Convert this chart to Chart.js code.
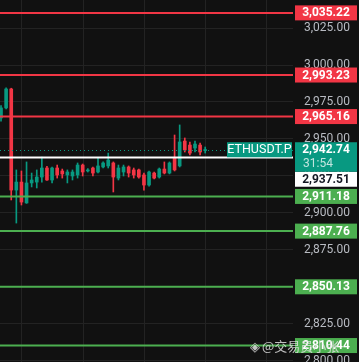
<!DOCTYPE html>
<html>
<head>
<meta charset="utf-8">
<script src="https://cdn.jsdelivr.net/npm/chart.js@4"></script>
<style>
  html,body{margin:0;padding:0;background:#111111;}
  #wrap{width:359px;height:362px;position:relative;}
</style>
</head>
<body>
<div id="wrap"><canvas id="c"></canvas></div>
<script>
// ETHUSDT.P candles + levels
const OPEN  = [2964.2,2971.0,2983.8,2915.5,2920.9,2906.8,2920.3,2920.9,2924.3,2930.4,2922.3,2930.4,2928.4,2925.7,2925.0,2925.7,2932.4,2928.4,2930.4,2927.7,2931.1,2931.8,2933.8,2923.6,2927.7,2931.1,2929.1,2929.1,2925.7,2918.9,2927.0,2924.3,2929.7,2927.0,2937.2,2931.8,2948.6,2945.9,2943.9,2945.9,2942.2];
const HIGH  = [2972.5,2984.5,2984.3,2929.1,2928.4,2934.5,2927.0,2929.1,2937.8,2931.5,2931.1,2932.4,2929.7,2929.1,2929.1,2933.8,2933.1,2930.0,2931.1,2937.2,2934.5,2940.5,2934.5,2932.4,2932.4,2931.8,2930.4,2929.7,2927.0,2928.4,2927.7,2930.4,2934.5,2934.5,2952.7,2959.5,2950.7,2948.0,2948.6,2947.3,2944.6];
const LOW   = [2962.0,2970.3,2908.8,2893.2,2905.4,2906.5,2917.6,2916.9,2920.9,2922.0,2920.3,2923.6,2923.6,2920.3,2922.3,2923.6,2925.0,2927.7,2925.0,2927.0,2930.4,2930.4,2914.2,2922.3,2925.0,2924.3,2923.6,2923.6,2915.5,2918.2,2923.0,2923.6,2926.4,2926.4,2928.4,2931.1,2941.2,2939.2,2941.2,2939.2,2940.5];
const CLOSE = [2971.0,2983.8,2915.5,2920.9,2907.4,2920.3,2922.3,2924.3,2930.4,2922.3,2930.4,2925.7,2926.4,2927.7,2927.7,2932.4,2927.7,2929.1,2927.0,2931.8,2933.8,2935.8,2924.3,2930.4,2931.1,2927.0,2925.7,2924.3,2918.9,2927.7,2923.6,2929.7,2927.0,2933.8,2929.1,2948.0,2942.6,2940.5,2946.6,2941.2,2942.74];

const RED_LEVELS   = [3035.22, 2993.23, 2965.16];
const GREEN_LEVELS = [2911.18, 2887.76, 2850.13, 2810.44];
const MARK_PRICE   = 2937.51;
const LAST_PRICE   = 2942.74;
const SYMBOL       = 'ETHUSDT.P';
const COUNTDOWN    = '31:54';
const WATERMARK    = '@交易员小张';

const Y_TICKS = [3025, 3000, 2975, 2950, 2925, 2900, 2875, 2850, 2825, 2800];
const GRID_X  = [4, 16, 28, 40, 52];   // candle index of vertical grid lines
const Y_MIN = 2799.32, Y_MAX = 3043.92;

const UP = '#089981', DOWN = '#f23645', GREEN = '#4caf50';
const fmt = v => v.toLocaleString('en-US',{minimumFractionDigits:2,maximumFractionDigits:2});

const colors = OPEN.map((o,i)=> CLOSE[i] >= o ? UP : DOWN);
const wicks  = OPEN.map((o,i)=> ({x:i, y:[LOW[i], HIGH[i]]}));
const bodies = OPEN.map((o,i)=> ({x:i, y:[Math.min(o,CLOSE[i]), Math.max(o,CLOSE[i])]}));

// levels, labels, grid
const overlay = {
  id:'overlay',
  beforeDatasetsDraw(chart){
    const {ctx, chartArea:a, scales:{x}} = chart;
    ctx.save();
    ctx.strokeStyle = '#232323'; ctx.lineWidth = 1;
    GRID_X.forEach(g=>{
      const px = Math.round(x.getPixelForValue(g)) + 0.5;
      ctx.beginPath(); ctx.moveTo(px, a.top); ctx.lineTo(px, a.bottom); ctx.stroke();
    });
    ctx.restore();
  },
  afterDatasetsDraw(chart){
    const {ctx, chartArea:a, scales:{y}} = chart;
    ctx.save();
    const line = (v,c)=>{
      const py = y.getPixelForValue(v);
      ctx.strokeStyle = c; ctx.lineWidth = 2;
      ctx.beginPath(); ctx.moveTo(a.left, py); ctx.lineTo(a.right, py); ctx.stroke();
    };
    RED_LEVELS.forEach(v=>line(v, DOWN));
    GREEN_LEVELS.forEach(v=>line(v, GREEN));
    line(MARK_PRICE, '#ffffff');
    // last price dotted
    const lp = Math.round(y.getPixelForValue(LAST_PRICE)) + 0.5;
    ctx.strokeStyle = UP; ctx.lineWidth = 1; ctx.setLineDash([1,3]);
    ctx.beginPath(); ctx.moveTo(a.left, lp); ctx.lineTo(a.right, lp); ctx.stroke();
    ctx.setLineDash([]);
    ctx.restore();
  },
  afterDraw(chart){
    const {ctx, chartArea:a, scales:{y}} = chart;
    const bx = a.right + 2, bw = 62, bh = 15;
    ctx.save();
    ctx.font = 'bold 12px Roboto';
    ctx.textAlign = 'center'; ctx.textBaseline = 'middle';
    // current price box
    const lp = y.getPixelForValue(LAST_PRICE);
    const pTop = lp - 7.5, pBot = pTop + 29.5;
    const boxes = [];
    RED_LEVELS.forEach(v=>boxes.push({v, bg:DOWN, fg:'#ffffff'}));
    GREEN_LEVELS.forEach(v=>boxes.push({v, bg:GREEN, fg:'#ffffff'}));
    boxes.push({v:MARK_PRICE, bg:'#ffffff', fg:'#131722'});
    boxes.forEach(b=>{
      let top = y.getPixelForValue(b.v) - bh/2;
      if(top < pBot && top + bh > pTop) top = pBot;
      ctx.fillStyle = b.bg; ctx.fillRect(bx, top, bw, bh);
      ctx.fillStyle = b.fg; ctx.fillText(fmt(b.v), bx + bw/2, top + bh/2 + 0.5);
    });
    ctx.fillStyle = UP; ctx.fillRect(bx, pTop, bw, pBot - pTop);
    ctx.fillStyle = '#ffffff'; ctx.fillText(fmt(LAST_PRICE), bx + bw/2, lp + 0.5);
    ctx.font = '12px Roboto'; ctx.fillStyle = 'rgba(255,255,255,0.75)';
    ctx.fillText(COUNTDOWN, bx + bw/2 - 8, lp + 14.5);
    // symbol tag
    ctx.fillStyle = UP; ctx.fillRect(a.right - 66, pTop, 65, bh);
    ctx.font = '12.5px Roboto'; ctx.fillStyle = '#ffffff';
    ctx.fillText(SYMBOL, a.right - 33.5, lp + 0.5);
    // watermark
    const wy = y.getPixelForValue(GREEN_LEVELS[3]) + 0.5;
    ctx.globalAlpha = 0.85; ctx.fillStyle = '#e0e0e0';
    ctx.font = '13px "Noto Sans CJK SC"'; ctx.textAlign = 'left';
    ctx.fillText('◈', 250, wy);
    ctx.fillText(WATERMARK, 262, wy);
    ctx.restore();
  }
};

new Chart(document.getElementById('c'), {
  type:'bar',
  data:{ datasets:[
    { data:wicks, backgroundColor:colors, barThickness:1, grouped:false, order:2 },
    { data:bodies, backgroundColor:colors, barThickness:3, minBarLength:1, grouped:false, order:1 }
  ]},
  options:{
    responsive:true, maintainAspectRatio:false, animation:false,
    layout:{ padding:{left:0, top:0, bottom:0, right:9} },
    plugins:{ legend:{display:false}, tooltip:{enabled:false} },
    scales:{
      x:{ type:'linear', display:false, min:-0.2, max:57.2, offset:false },
      y:{
        position:'right', min:Y_MIN, max:Y_MAX,
        afterBuildTicks: s=>{ s.ticks = Y_TICKS.map(v=>({value:v})); },
        afterFit: s=>{ s.width = 57; s.paddingTop = 0; s.paddingBottom = 0; },
        grid:{ color:'#232323', drawTicks:false },
        border:{ display:false },
        ticks:{ color:'#b8bbc2', font:{family:'Roboto', size:12}, crossAlign:'far', padding:9,
                callback: v=>fmt(v) }
      }
    }
  },
  plugins:[overlay]
});
</script>
</body>
</html>
